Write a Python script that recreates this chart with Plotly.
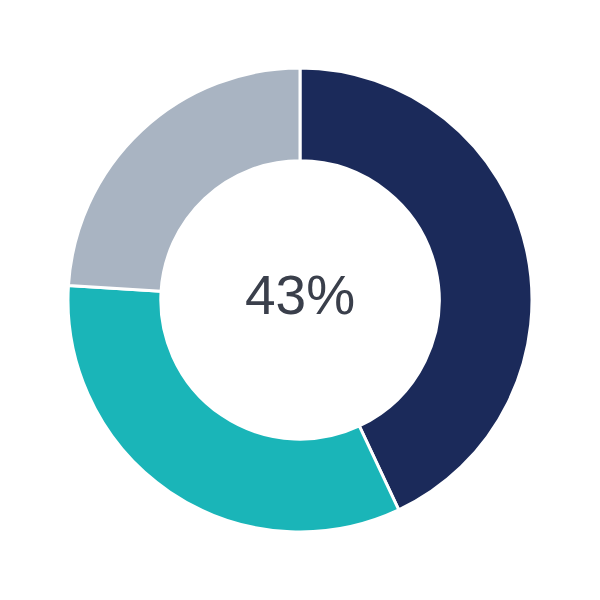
import plotly.graph_objects as go

labels = ["A", "B", "C"]
values = [43, 33, 24]
colors = ["#1b2a5a", "#1ab5b8", "#a9b4c2"]
center_text = "43%"

fig = go.Figure()
fig.add_trace(go.Pie(
    labels=labels,
    values=values,
    hole=0.6,
    sort=False,
    direction="clockwise",
    rotation=0,
    marker=dict(colors=colors, line=dict(color="white", width=3)),
    textinfo="none",
    hoverinfo="label+percent",
    showlegend=False,
))

# page body has an 8px margin, so shift the pie back up/left
fig.update_layout(
    width=600, height=600,
    margin=dict(l=60, r=76, t=60, b=76),
    paper_bgcolor="white",
    annotations=[dict(text=center_text, x=0.5, y=0.5, xref="paper", yref="paper",
                      showarrow=False, yshift=5,
                      font=dict(family="Liberation Sans, Arial, sans-serif", size=55, color="#3a3f4b"))],
)

fig.write_html("out.html")
